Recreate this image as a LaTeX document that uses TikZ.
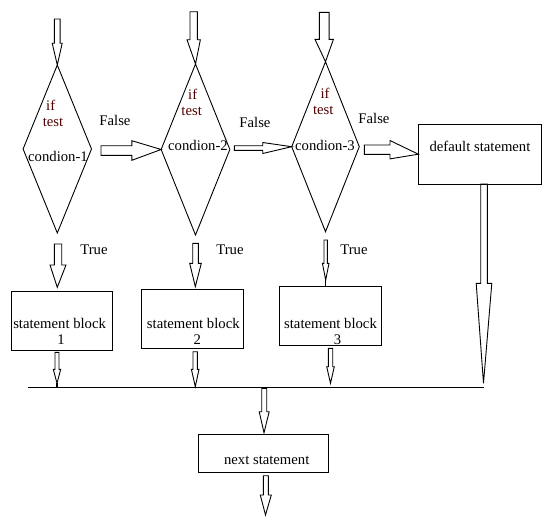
\documentclass[tikz,border=0pt]{standalone}
\usepackage{fontspec}
\setmainfont{Liberation Serif}
\usetikzlibrary{shapes.geometric,calc}
\definecolor{ifred}{RGB}{80,0,0}
\tikzset{
  shp/.style={draw=black, line width=0.9pt, inner sep=0pt, outer sep=0pt},
  boxshape/.style={shp, rectangle},
  decision/.style={shp, diamond},
  txt/.style={inner sep=0pt, outer sep=0pt, font=\fontsize{14.7}{17}\selectfont, text=black},
  iftxt/.style={txt, text=ifred},
  barrow/.style={draw=black, line width=0.9pt, line join=miter},
  busline/.style={draw=black, line width=1pt}
}
% vertical block arrow: tail, tip, head length, shaft half width, head half width
\newcommand\blkV[5]{%
  \path[barrow] let \p1=(#1), \p2=(#2) in
    (\x1-#4pt,\y1) -- (\x1+#4pt,\y1) -- (\x1+#4pt,\y2+#3pt) -- (\x1+#5pt,\y2+#3pt)
    -- (\x2,\y2) -- (\x1-#5pt,\y2+#3pt) -- (\x1-#4pt,\y2+#3pt) -- cycle;}
% horizontal block arrow
\newcommand\blkH[5]{%
  \path[barrow] let \p1=(#1), \p2=(#2) in
    (\x1,\y1+#4pt) -- (\x1,\y1-#4pt) -- (\x2-#3pt,\y1-#4pt) -- (\x2-#3pt,\y1-#5pt)
    -- (\x2,\y2) -- (\x2-#3pt,\y1+#5pt) -- (\x2-#3pt,\y1+#4pt) -- cycle;}
\begin{document}
\begin{tikzpicture}[x=1pt,y=-1pt]
\path[use as bounding box] (0,0) rectangle (550,517);

% decisions
\node[decision, minimum width=68.4pt, minimum height=168pt] (d1) at (57.3,149) {};
\node[decision, minimum width=68.7pt, minimum height=171pt] (d2) at (195.5,149.5) {};
\node[decision, minimum width=67.6pt, minimum height=170pt] (d3) at (325.5,146.7) {};

% boxes
\node[boxshape, minimum width=100.7pt, minimum height=58.5pt] (b1) at (61.7,320.8) {};
\node[boxshape, minimum width=101.5pt, minimum height=59pt] (b2) at (192.2,318.8) {};
\node[boxshape, minimum width=101.7pt, minimum height=58.6pt] (b3) at (330.2,316) {};
\node[boxshape, minimum width=123.4pt, minimum height=59.7pt] (def) at (480,154.2) {};
\node[boxshape, minimum width=130pt, minimum height=38pt] (nxt) at (263.3,453.3) {};

% texts
\node[iftxt] (if1) at (50.7,105) {if};
\node[iftxt] (te1) at (53,122) {test};
\node[txt] (c1) at (58,156) {condion-1};
\node[iftxt] (if2) at (192.7,94.3) {if};
\node[iftxt] (te2) at (191.7,111) {test};
\node[txt] (c2) at (198,145.7) {condion-2};
\node[iftxt] (if3) at (325,93.3) {if};
\node[iftxt] (te3) at (323.3,110) {test};
\node[txt] (c3) at (325,145.7) {condion-3};

\node[txt] (f1) at (115,120) {False};
\node[txt] (f2) at (255,122.3) {False};
\node[txt] (f3) at (374,118.3) {False};
\node[txt] (t1) at (94,249.3) {True};
\node[txt] (t2) at (230,249.3) {True};
\node[txt] (t3) at (354,249.3) {True};

\node[txt] (s1) at (59.6,323.3) {statement block};
\node[txt] (n1) at (61,340) {1};
\node[txt] (s2) at (193.3,323.3) {statement block};
\node[txt] (n2) at (197.2,340) {2};
\node[txt] (s3) at (330.5,323.3) {statement block};
\node[txt] (n3) at (337.6,340) {3};
\node[txt] (dt) at (480,146.7) {default statement};
\node[txt] (nt) at (266.7,460) {next statement};

% connector coordinates
\coordinate (in1) at (57.2,19);
\coordinate (in2) at (193.7,11.7);
\coordinate (in3) at (324.2,12.3);
\coordinate (h1s) at (101,150.5);
\coordinate (h2s) at (234.3,148);
\coordinate (h3s) at (364.3,149.7);
\coordinate (v1s) at (58,244);
\coordinate (v1e) at (57.3,287.3);
\coordinate (v2s) at (195.5,243.3);
\coordinate (v2e) at (195.3,286.7);
\coordinate (v3s) at (325.7,240);
\coordinate (v3e) at (325.7,280);
\coordinate (a1s) at (57,352.3);
\coordinate (a1e) at (57,383.3);
\coordinate (a2s) at (195.2,351.7);
\coordinate (a2e) at (195.3,386.7);
\coordinate (a3s) at (330.5,348.3);
\coordinate (a3e) at (330.5,383.3);
\coordinate (dfs) at (484,184);
\coordinate (dfe) at (483.5,383.3);
\coordinate (busL) at (27.5,387.3);
\coordinate (busR) at (484,387.3);
\coordinate (ns) at (264.2,388.3);
\coordinate (ne) at (264,432.7);
\coordinate (outs) at (265.8,475.7);
\coordinate (oute) at (265.5,515);

% arrows into decisions
\blkV{in1}{d1.north}{21.8}{2.9}{5}
\blkV{in2}{d2.north}{24.3}{3.7}{6.7}
\blkV{in3}{d3.north}{22.3}{4.9}{9.2}

% false arrows
\blkH{h1s}{d2.west}{29.3}{4.8}{9.8}
\blkH{h2s}{d3.west}{29}{2.3}{5.5}
\blkH{h3s}{def.west}{28.3}{4.7}{9.2}

% true arrows
\blkV{v1s}{v1e}{22.3}{3.7}{8}
\blkV{v2s}{v2e}{23.4}{2.8}{5.8}
\blkV{v3s}{v3e}{16.7}{1.7}{3.3}
\draw[line width=0.9pt] (v3e) -- (v3e |- b3.north);

% block outputs
\blkV{a1s}{a1e}{14}{2}{3.7}
\draw[line width=1.5pt] (a1e) -- (a1e |- busL);
\blkV{a2s}{a2e}{17.4}{2.2}{3.8}
\blkV{a3s}{a3e}{16.6}{2.2}{3.8}
\blkV{dfs}{dfe}{100}{3.3}{7.8}
\draw[line width=1.5pt] ($(dfe)+(0,-8)$) -- (dfe);

% bus line
\draw[busline] (busL) -- (busR);

% to next statement
\blkV{ns}{ne}{21}{2.5}{5}
\blkV{outs}{oute}{20}{2.5}{5.5}
\end{tikzpicture}
\end{document}
